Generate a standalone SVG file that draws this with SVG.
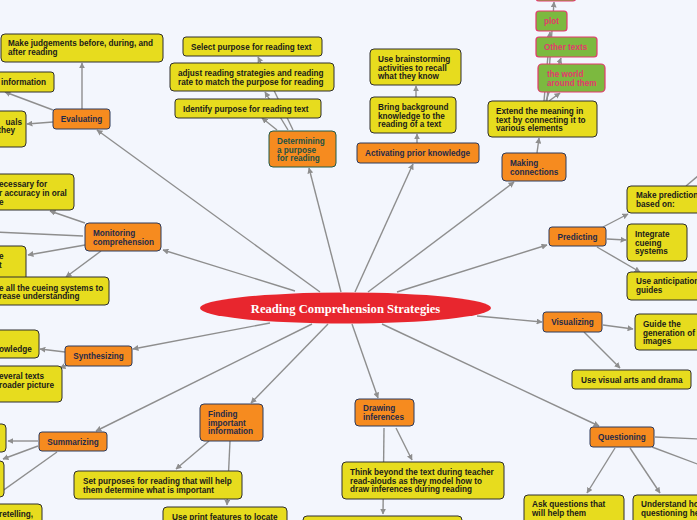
<svg xmlns="http://www.w3.org/2000/svg" width="697" height="520" viewBox="0 0 697 520">
<defs>
<marker id="ar" viewBox="0 0 10 10" refX="9" refY="5" markerWidth="6" markerHeight="6" markerUnits="userSpaceOnUse" orient="auto"><path d="M0,0 L10,5 L0,10 z" fill="#8e8e8e"/></marker>
<style>
.bg{fill:#f3f6fd}
.c line{stroke:#8e8e8e;stroke-width:1.4;fill:none}
.c line.a{marker-end:url(#ar)}
.y rect{fill:#e7dc1e;stroke:#2e2e2e;stroke-width:1}
.o rect{fill:#f68b1f;stroke:#2c3a5c;stroke-width:1}
.g rect{fill:#7cb93f;stroke:#e3386d;stroke-width:1.2}
text{font-family:"Liberation Sans",Arial,sans-serif;font-weight:bold;font-size:8.2px}
.y text{fill:#1a1a1a}
.o text{fill:#1f2a4a}
.g text{fill:#e3386d}
.dt text{fill:#1c5246}
.m text{font-family:"Liberation Serif","Times New Roman",serif;font-size:12.6px;fill:#ffffff}
</style>
</defs>
<rect class="bg" x="0" y="0" width="697" height="520"/>
<g id="connectors" class="c">
<line class="a" x1="320" y1="292" x2="97" y2="130"/>
<line class="a" x1="341" y1="292" x2="309" y2="168"/>
<line class="a" x1="355" y1="292" x2="413" y2="164"/>
<line class="a" x1="368" y1="292" x2="514" y2="182"/>
<line class="a" x1="397" y1="292" x2="547" y2="245"/>
<line class="a" x1="477" y1="316" x2="542" y2="322"/>
<line class="a" x1="382" y1="324" x2="599" y2="426"/>
<line class="a" x1="352" y1="324" x2="378" y2="398"/>
<line class="a" x1="328" y1="324" x2="251" y2="403"/>
<line class="a" x1="312" y1="324" x2="96" y2="431"/>
<line class="a" x1="270" y1="323" x2="133" y2="349"/>
<line class="a" x1="295" y1="291" x2="163" y2="250"/>
<line class="a" x1="82" y1="109" x2="82" y2="63"/>
<line class="a" x1="53" y1="110" x2="5" y2="92"/>
<line class="a" x1="53" y1="122" x2="27" y2="124"/>
<line class="a" x1="277" y1="130" x2="262" y2="118"/>
<line class="a" x1="288" y1="130" x2="265" y2="92"/>
<line class="a" x1="293" y1="130" x2="258" y2="57"/>
<line class="a" x1="417" y1="143" x2="417" y2="134"/>
<line class="a" x1="416" y1="97" x2="416" y2="86"/>
<line class="a" x1="537" y1="153" x2="539" y2="138"/>
<line class="a" x1="549" y1="101" x2="560" y2="93"/>
<line class="a" x1="546" y1="101" x2="561" y2="58"/>
<line class="a" x1="544" y1="101" x2="550" y2="32"/>
<line class="a" x1="547" y1="101" x2="554" y2="2"/>
<line x1="686" y1="186" x2="705" y2="170"/>
<line class="a" x1="603" y1="227" x2="628" y2="214"/>
<line class="a" x1="607" y1="239" x2="626" y2="240"/>
<line class="a" x1="597" y1="247" x2="640" y2="272"/>
<line class="a" x1="603" y1="325" x2="633" y2="329"/>
<line class="a" x1="584" y1="332" x2="620" y2="368"/>
<line class="a" x1="615" y1="448" x2="587" y2="493"/>
<line class="a" x1="630" y1="448" x2="660" y2="493"/>
<line x1="655" y1="437" x2="700" y2="439"/>
<line x1="652" y1="447" x2="700" y2="465"/>
<line class="a" x1="396" y1="428" x2="412" y2="460"/>
<line class="a" x1="384" y1="428" x2="383" y2="514"/>
<line class="a" x1="209" y1="441" x2="176" y2="469"/>
<line class="a" x1="230" y1="441" x2="227" y2="505"/>
<line class="a" x1="85" y1="223" x2="50" y2="211"/>
<line x1="83" y1="236" x2="-5" y2="232"/>
<line class="a" x1="85" y1="245" x2="28" y2="255"/>
<line class="a" x1="101" y1="251" x2="66" y2="277"/>
<line class="a" x1="65" y1="352" x2="40" y2="349"/>
<line class="a" x1="68" y1="365" x2="60" y2="368"/>
<line class="a" x1="38" y1="441" x2="8" y2="441"/>
<line class="a" x1="38" y1="446" x2="3" y2="459"/>
<line x1="57" y1="452" x2="-2" y2="494"/>
</g>
<g id="center" class="m">
<ellipse cx="345.5" cy="308" rx="145.5" ry="15.5" fill="#e8262e"/>
<text x="345.5" y="312.5" text-anchor="middle">Reading Comprehension Strategies</text>
</g>
<g id="evaluating" class="o"><rect x="53" y="109" width="57" height="20" rx="3"/><text x="81.5" y="122" text-anchor="middle">Evaluating</text></g>
<g id="make-judgements" class="y"><rect x="1" y="34" width="162" height="28" rx="4"/><text x="8" y="46.3">Make judgements before, during, and</text><text x="8" y="55.2">after reading</text></g>
<g id="information" class="y"><rect x="-20" y="72" width="74" height="20" rx="3"/><text x="1" y="85">information</text></g>
<g id="goals" class="y"><rect x="-40" y="111" width="66" height="36" rx="4"/><text x="22" y="124.5" text-anchor="end">uals</text><text x="15" y="133" text-anchor="end">they</text></g>
<g id="select-purpose" class="y"><rect x="183" y="37" width="139" height="19" rx="3"/><text x="191" y="49.5">Select purpose for reading text</text></g>
<g id="adjust" class="y"><rect x="170" y="63" width="164" height="28" rx="4"/><text x="178" y="76">adjust reading strategies and reading</text><text x="178" y="84.7">rate to match the purpose for reading</text></g>
<g id="identify" class="y"><rect x="175" y="99" width="146" height="19" rx="3"/><text x="183" y="111.5">Identify purpose for reading text</text></g>
<g id="determining" class="o dt"><rect x="269" y="131" width="67" height="36" rx="4" style="stroke:#1f5a4a"/><text x="277" y="144.2">Determining</text><text x="277" y="152.8">a purpose</text><text x="277" y="161.4">for reading</text></g>
<g id="brainstorm" class="y"><rect x="370" y="49" width="91" height="36" rx="4"/><text x="378" y="62.2">Use brainstorming</text><text x="378" y="70.8">activities to recall</text><text x="378" y="79.4">what they know</text></g>
<g id="background" class="y"><rect x="370" y="97" width="86" height="36" rx="4"/><text x="378" y="110.2">Bring background</text><text x="378" y="118.8">knowledge to the</text><text x="378" y="127.4">reading of a text</text></g>
<g id="activating" class="o"><rect x="357" y="143" width="122" height="20" rx="3"/><text x="365" y="156">Activating prior knowledge</text></g>
<g id="extend" class="y"><rect x="488" y="101" width="109" height="36" rx="4"/><text x="496" y="114.2">Extend the meaning in</text><text x="496" y="122.8">text by connecting it to</text><text x="496" y="131.4">various elements</text></g>
<g id="making" class="o"><rect x="502" y="153" width="64" height="28" rx="4"/><text x="510" y="165.8">Making</text><text x="510" y="174.6">connections</text></g>
<g id="world" class="g"><rect x="538" y="64" width="67" height="28" rx="4"/><text x="547" y="77">the world</text><text x="547" y="86">around them</text></g>
<g id="other-texts" class="g"><rect x="536" y="37" width="61" height="20" rx="3"/><text x="544" y="50">Other texts</text></g>
<g id="plot" class="g"><rect x="536" y="11" width="31" height="20" rx="3"/><text x="544" y="24">plot</text></g>
<g id="top-node" class="g"><rect x="536" y="-19" width="40" height="20" rx="3"/></g>
<g id="predicting" class="o"><rect x="549" y="227" width="57" height="19" rx="3"/><text x="577.5" y="239.5" text-anchor="middle">Predicting</text></g>
<g id="make-predictions" class="y"><rect x="627" y="186" width="90" height="27" rx="4"/><text x="636" y="198">Make predictions</text><text x="636" y="207">based on:</text></g>
<g id="integrate" class="y"><rect x="627" y="224" width="60" height="37" rx="4"/><text x="635" y="237">Integrate</text><text x="635" y="245.6">cueing</text><text x="635" y="254.2">systems</text></g>
<g id="anticipation" class="y"><rect x="627" y="272" width="90" height="28" rx="4"/><text x="636" y="284.3">Use anticipation</text><text x="636" y="293.1">guides</text></g>
<g id="visualizing" class="o"><rect x="543" y="312" width="59" height="20" rx="3"/><text x="572.5" y="325" text-anchor="middle">Visualizing</text></g>
<g id="guide" class="y"><rect x="635" y="314" width="80" height="36" rx="4"/><text x="643" y="327">Guide the</text><text x="643" y="335.6">generation of</text><text x="643" y="344.2">images</text></g>
<g id="visual-arts" class="y"><rect x="572" y="370" width="119" height="19" rx="3"/><text x="581" y="382.5">Use visual arts and drama</text></g>
<g id="questioning" class="o"><rect x="590" y="427" width="64" height="20" rx="3"/><text x="622" y="440" text-anchor="middle">Questioning</text></g>
<g id="ask-questions" class="y"><rect x="524" y="495" width="100" height="40" rx="4"/><text x="532" y="507">Ask questions that</text><text x="532" y="515.8">will help them</text></g>
<g id="understand" class="y"><rect x="633" y="495" width="80" height="40" rx="4"/><text x="641" y="507">Understand how</text><text x="641" y="515.8">questioning helps</text></g>
<g id="drawing" class="o"><rect x="355" y="399" width="59" height="27" rx="4"/><text x="363" y="411">Drawing</text><text x="363" y="419.8">inferences</text></g>
<g id="think-beyond" class="y"><rect x="342" y="462" width="162" height="37" rx="4"/><text x="350" y="475">Think beyond the text during teacher</text><text x="350" y="483.7">read-alouds as they model how to</text><text x="350" y="492.4">draw inferences during reading</text></g>
<g id="inference-child" class="y"><rect x="303" y="516" width="159" height="20" rx="4"/></g>
<g id="finding" class="o"><rect x="200" y="404" width="63" height="37" rx="4"/><text x="208" y="417">Finding</text><text x="208" y="425.6">important</text><text x="208" y="434.2">information</text></g>
<g id="set-purposes" class="y"><rect x="74" y="471" width="168" height="28" rx="4"/><text x="83" y="484">Set purposes for reading that will help</text><text x="83" y="492.8">them determine what is important</text></g>
<g id="print-features" class="y"><rect x="163" y="507" width="124" height="25" rx="4"/><text x="172" y="520">Use print features to locate</text></g>
<g id="monitoring" class="o"><rect x="85" y="223" width="76" height="28" rx="4"/><text x="93" y="235.8">Monitoring</text><text x="93" y="244.6">comprehension</text></g>
<g id="necessary" class="y"><rect x="-40" y="174" width="114" height="36" rx="4"/><text x="-1" y="187">ecessary for</text><text x="-1" y="195.8">r accuracy in oral</text><text x="-1" y="204.6">e</text></g>
<g id="mon-left" class="y"><rect x="-40" y="246" width="66" height="36" rx="4"/><text x="-1" y="259">e</text><text x="-1" y="267.8">t</text></g>
<g id="cueing" class="y"><rect x="-40" y="277" width="149" height="28" rx="4"/><text x="-1" y="290.5">e all the cueing systems to</text><text x="-1" y="299.3">rease understanding</text></g>
<g id="synthesizing" class="o"><rect x="65" y="346" width="67" height="20" rx="3"/><text x="98.5" y="359" text-anchor="middle">Synthesizing</text></g>
<g id="knowledge" class="y"><rect x="-40" y="330" width="79" height="28" rx="4"/><text x="-1" y="352">owledge</text></g>
<g id="several" class="y"><rect x="-40" y="366" width="102" height="36" rx="4"/><text x="-1" y="378.8">everal texts</text><text x="-1" y="387.6">roader picture</text></g>
<g id="summarizing" class="o"><rect x="39" y="432" width="68" height="19" rx="3"/><text x="73" y="444.5" text-anchor="middle">Summarizing</text></g>
<g id="sum-a" class="y"><rect x="-40" y="424" width="46" height="28" rx="4"/></g>
<g id="sum-b" class="y"><rect x="-40" y="461" width="44" height="36" rx="4"/></g>
<g id="retelling" class="y"><rect x="-40" y="504" width="82" height="30" rx="4"/><text x="-1" y="517">retelling,</text></g>
</svg>
